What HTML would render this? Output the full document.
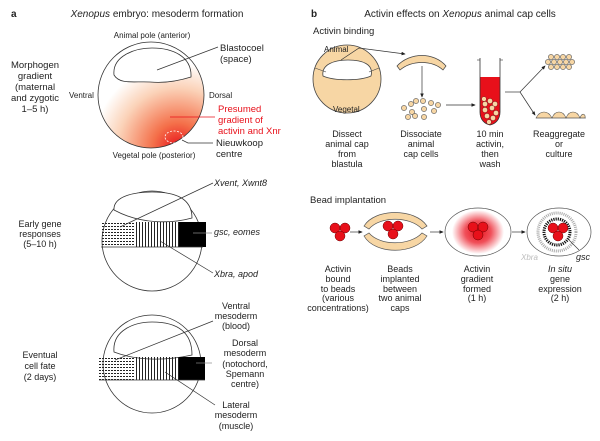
<!DOCTYPE html>
<html><head><meta charset="utf-8"><style>
body{margin:0;background:#fff}
svg{display:block;font-family:"Liberation Sans",Arial,sans-serif}
text{font-size:9px;fill:#222}
.c{text-anchor:middle}
</style></head><body>
<svg width="600" height="441" viewBox="0 0 600 441">
<defs>
<radialGradient id="g1" gradientUnits="userSpaceOnUse" cx="178" cy="148" r="100">
<stop offset="0" stop-color="#e8101a"/><stop offset="0.25" stop-color="#f4704a"/><stop offset="0.6" stop-color="#fbd2b8"/><stop offset="0.85" stop-color="#fff"/></radialGradient>
<radialGradient id="g2" cx="0.5" cy="0.5" r="0.5">
<stop offset="0" stop-color="#e8101a"/><stop offset="0.5" stop-color="#f0505a"/><stop offset="1" stop-color="#fff" stop-opacity="1"/></radialGradient>
<pattern id="dots" width="3" height="3" patternUnits="userSpaceOnUse"><rect x="0" y="1" width="2" height="1" fill="#222"/></pattern>
<pattern id="vl" width="3" height="3" patternUnits="userSpaceOnUse"><rect x="1" y="0" width="1" height="3" fill="#222"/></pattern>
<marker id="ar" markerWidth="6" markerHeight="6" refX="5" refY="3" orient="auto"><path d="M0,0.5 L6,3 L0,5.5z" fill="#222"/></marker>
</defs>
<!-- Panel a -->
<text x="11" y="17" style="font-weight:bold;font-size:10px">a</text>
<text x="157" y="17" class="c" style="font-size:10px"><tspan font-style="italic">Xenopus</tspan> embryo: mesoderm formation</text>

<circle cx="151" cy="95" r="53" fill="url(#g1)" stroke="#333" stroke-width="0.8"/>
<path d="M114,75 C112,56 135,48 152,48 C172,48 192,56 191,77 C175,82 160,83 150,82 C135,81 120,85 114,75z" fill="#fff" stroke="#333" stroke-width="0.8"/>
<ellipse cx="174" cy="137" rx="9" ry="6" fill="none" stroke="#fff" stroke-width="0.8" stroke-dasharray="2,1.5"/>
<line x1="157" y1="70" x2="218" y2="47" stroke="#333" stroke-width="0.7"/>
<line x1="170" y1="117" x2="215" y2="117" stroke="#e8101a" stroke-width="0.7"/>
<polyline points="182,140 188,143 213,143" fill="none" stroke="#333" stroke-width="0.7"/>
<text x="152" y="38" class="c" style="font-size:8px">Animal pole (anterior)</text>
<text x="220" y="51" style="font-size:9.5px">Blastocoel</text>
<text x="220" y="62" style="font-size:9.5px">(space)</text>
<text x="69" y="98" style="font-size:8px">Ventral</text>
<text x="209" y="98" style="font-size:8px">Dorsal</text>
<text x="218" y="112" style="font-size:9.5px;fill:#e8101a">Presumed</text>
<text x="218" y="123" style="font-size:9.5px;fill:#e8101a">gradient of</text>
<text x="218" y="134" style="font-size:9.5px;fill:#e8101a">activin and Xnr</text>
<text x="216" y="146" style="font-size:9.5px">Nieuwkoop</text>
<text x="216" y="157" style="font-size:9.5px">centre</text>
<text x="154" y="158" class="c" style="font-size:8px">Vegetal pole (posterior)</text>
<text x="35" y="68" class="c" style="font-size:9.5px">Morphogen</text>
<text x="35" y="79" class="c" style="font-size:9.5px">gradient</text>
<text x="35" y="90" class="c" style="font-size:9.5px">(maternal</text>
<text x="35" y="101" class="c" style="font-size:9.5px">and zygotic</text>
<text x="35" y="112" class="c" style="font-size:9.5px">1–5 h)</text>

<!-- embryo 2 -->
<circle cx="152" cy="241" r="50" fill="#fff" stroke="#333" stroke-width="0.8"/>
<path d="M114,210 C113,196 135,192 152,192 C175,192 192,198 192,218 C170,224 140,224 114,210z" fill="#fff" stroke="#333" stroke-width="0.8"/>
<rect x="101" y="222" width="34" height="25" fill="url(#dots)"/>
<rect x="135" y="222" width="44" height="25" fill="url(#vl)"/>
<rect x="179" y="222" width="27" height="25" fill="#000"/>
<line x1="101" y1="247" x2="203" y2="247" stroke="#333" stroke-width="0.7"/>
<line x1="120" y1="227" x2="213" y2="183" stroke="#333" stroke-width="0.7"/>
<line x1="193" y1="233" x2="212" y2="233" stroke="#888" stroke-width="0.7"/>
<line x1="160" y1="241" x2="213" y2="273" stroke="#333" stroke-width="0.7"/>
<text x="214" y="186" style="font-size:9px;font-style:italic">Xvent, Xwnt8</text>
<text x="214" y="235" style="font-size:9px;font-style:italic">gsc, eomes</text>
<text x="214" y="277" style="font-size:9px;font-style:italic">Xbra, apod</text>
<text x="40" y="227" class="c">Early gene</text>
<text x="40" y="237" class="c">responses</text>
<text x="40" y="247" class="c">(5–10 h)</text>

<!-- embryo 3 -->
<circle cx="152" cy="364" r="49" fill="#fff" stroke="#333" stroke-width="0.8"/>
<path d="M114,352 C112,330 135,322 152,322 C175,322 192,330 192,355 C170,360 140,362 114,352z" fill="#fff" stroke="#333" stroke-width="0.8"/>
<rect x="99" y="357" width="36" height="23" fill="url(#dots)"/>
<rect x="135" y="357" width="44" height="23" fill="url(#vl)"/>
<rect x="179" y="357" width="26" height="23" fill="#000"/>
<line x1="99" y1="380" x2="205" y2="380" stroke="#333" stroke-width="0.7"/>
<line x1="115" y1="360" x2="213" y2="321" stroke="#333" stroke-width="0.7"/>
<line x1="196" y1="363" x2="212" y2="363" stroke="#888" stroke-width="0.7"/>
<line x1="165" y1="372" x2="215" y2="405" stroke="#333" stroke-width="0.7"/>
<text x="236" y="309" class="c">Ventral</text>
<text x="236" y="319" class="c">mesoderm</text>
<text x="236" y="329" class="c">(blood)</text>
<text x="245" y="346" class="c">Dorsal</text>
<text x="245" y="356" class="c">mesoderm</text>
<text x="245" y="367" class="c">(notochord,</text>
<text x="245" y="377" class="c">Spemann</text>
<text x="245" y="387" class="c">centre)</text>
<text x="236" y="408" class="c">Lateral</text>
<text x="236" y="418" class="c">mesoderm</text>
<text x="236" y="429" class="c">(muscle)</text>
<text x="40" y="358" class="c">Eventual</text>
<text x="40" y="369" class="c">cell fate</text>
<text x="40" y="380" class="c">(2 days)</text>

<!-- Panel b -->
<text x="311" y="17" style="font-weight:bold;font-size:10px">b</text>
<text x="460" y="17" class="c" style="font-size:10px">Activin effects on <tspan font-style="italic">Xenopus</tspan> animal cap cells</text>
<text x="313" y="34" style="font-size:9.5px">Activin binding</text>
<circle cx="347" cy="79" r="34" fill="#f7d6a4" stroke="#444" stroke-width="0.8"/>
<path d="M323,76 C321,64 335,60 348,60 C362,60 374,64 371,76 C360,81 334,81 323,76z" fill="#fff" stroke="#444" stroke-width="0.8"/>
<line x1="315" y1="68" x2="326" y2="72" stroke="#444" stroke-width="0.6"/>
<line x1="379" y1="68" x2="369" y2="72" stroke="#444" stroke-width="0.6"/>
<text x="324" y="52" style="font-size:8px">Animal</text>
<polyline points="341,60 359,48 405,54" fill="none" stroke="#333" stroke-width="0.7" marker-end="url(#ar)"/>
<text x="333" y="112" style="font-size:8px">Vegetal</text>
<path d="M397,66 C410,52 434,52 446,66 L443,70 C432,60 412,60 400,70z" fill="#f7d6a4" stroke="#444" stroke-width="0.7"/>
<line x1="422" y1="66" x2="422" y2="97" stroke="#333" stroke-width="0.7" marker-end="url(#ar)"/>
<g fill="#f7d6a4" stroke="#555" stroke-width="0.6">
<circle cx="404" cy="108" r="2.6"/><circle cx="411" cy="104" r="2.6"/><circle cx="416" cy="101" r="2.6"/><circle cx="423" cy="101" r="2.6"/><circle cx="431" cy="103" r="2.6"/><circle cx="438" cy="105" r="2.6"/><circle cx="412" cy="112" r="2.6"/><circle cx="424" cy="109" r="2.6"/><circle cx="434" cy="111" r="2.6"/><circle cx="408" cy="117" r="2.6"/><circle cx="415" cy="116" r="2.6"/><circle cx="424" cy="117" r="2.6"/>
</g>
<line x1="446" y1="105" x2="475" y2="105" stroke="#333" stroke-width="0.7" marker-end="url(#ar)"/>
<path d="M480,77 L500,77 L500,112 C500,120 495,124 490,125 C485,124 480,120 480,112z" fill="#e8101a"/>
<path d="M480,58 L480,112 C480,120 485,124 490,125 C495,124 500,120 500,112 L500,58" fill="none" stroke="#333" stroke-width="0.8"/>
<line x1="477" y1="60" x2="480" y2="60" stroke="#333" stroke-width="0.6"/><line x1="500" y1="60" x2="503" y2="60" stroke="#333" stroke-width="0.6"/>
<g fill="#f7d6a4" stroke="#7a2020" stroke-width="0.5">
<circle cx="485" cy="104" r="2.6"/><circle cx="490" cy="101" r="2.6"/><circle cx="495" cy="104" r="2.6"/><circle cx="485" cy="110" r="2.6"/><circle cx="492" cy="108" r="2.6"/><circle cx="496" cy="113" r="2.6"/><circle cx="487" cy="116" r="2.6"/><circle cx="493" cy="118" r="2.6"/><circle cx="489" cy="122" r="2.4"/><circle cx="484" cy="99" r="2.4"/>
</g>
<polyline points="505,92 520,92" fill="none" stroke="#333" stroke-width="0.7"/>
<line x1="520" y1="92" x2="545" y2="66" stroke="#333" stroke-width="0.7" marker-end="url(#ar)"/>
<line x1="520" y1="92" x2="535" y2="115" stroke="#333" stroke-width="0.7" marker-end="url(#ar)"/>
<g fill="#f7d6a4" stroke="#555" stroke-width="0.6">
<circle cx="551" cy="57" r="2.6"/><circle cx="557" cy="57" r="2.6"/><circle cx="563" cy="57" r="2.6"/><circle cx="569" cy="57" r="2.6"/>
<circle cx="548" cy="62" r="2.6"/><circle cx="554" cy="62" r="2.6"/><circle cx="560" cy="62" r="2.6"/><circle cx="566" cy="62" r="2.6"/><circle cx="572" cy="62" r="2.6"/>
<circle cx="551" cy="67" r="2.6"/><circle cx="557" cy="67" r="2.6"/><circle cx="563" cy="67" r="2.6"/><circle cx="569" cy="67" r="2.6"/>
</g>
<path d="M536,118 C540,110 548,110 552,118 C555,110 563,110 566,118 C569,110 577,110 580,118 C582,112 586,114 585,118z" fill="#f7d6a4" stroke="#555" stroke-width="0.6"/>
<line x1="536" y1="118" x2="586" y2="118" stroke="#555" stroke-width="0.6"/>
<text x="347" y="137" class="c">Dissect</text><text x="347" y="147" class="c">animal cap</text><text x="347" y="157" class="c">from</text><text x="347" y="167" class="c">blastula</text>
<text x="421" y="137" class="c">Dissociate</text><text x="421" y="147" class="c">animal</text><text x="421" y="157" class="c">cap cells</text>
<text x="490" y="137" class="c">10 min</text><text x="490" y="147" class="c">activin,</text><text x="490" y="157" class="c">then</text><text x="490" y="167" class="c">wash</text>
<text x="559" y="137" class="c">Reaggregate</text><text x="559" y="147" class="c">or</text><text x="559" y="157" class="c">culture</text>

<text x="310" y="203" style="font-size:9.5px">Bead implantation</text>
<g fill="#e8101a" stroke="#600" stroke-width="0.5">
<circle cx="335" cy="228" r="5"/><circle cx="345" cy="228" r="5"/><circle cx="340" cy="236" r="5"/>
</g>
<line x1="350" y1="232" x2="362" y2="232" stroke="#333" stroke-width="0.7" marker-end="url(#ar)"/>
<path d="M364,226 C375,208 415,208 427,226 L422,229 C410,216 380,216 369,229z" fill="#f7d6a4" stroke="#555" stroke-width="0.7"/>
<path d="M364,236 C375,255 415,255 427,236 L422,233 C410,246 380,246 369,233z" fill="#f7d6a4" stroke="#555" stroke-width="0.7"/>
<g fill="#e8101a" stroke="#600" stroke-width="0.5">
<circle cx="388" cy="226" r="5"/><circle cx="398" cy="226" r="5"/><circle cx="393" cy="234" r="5"/>
</g>
<line x1="430" y1="232" x2="443" y2="232" stroke="#333" stroke-width="0.7" marker-end="url(#ar)"/>
<ellipse cx="478" cy="232" rx="33" ry="24" fill="#fff" stroke="#555" stroke-width="0.7"/>
<ellipse cx="478" cy="232" rx="26" ry="22" fill="url(#g2)"/>
<g fill="#e8101a" stroke="#600" stroke-width="0.5">
<circle cx="473" cy="227" r="5"/><circle cx="483" cy="227" r="5"/><circle cx="478" cy="235" r="5"/>
</g>
<line x1="512" y1="232" x2="525" y2="232" stroke="#333" stroke-width="0.7" marker-end="url(#ar)"/>
<ellipse cx="559" cy="232" rx="32" ry="24" fill="#fff" stroke="#555" stroke-width="0.7"/>
<circle cx="557" cy="232" r="19" fill="none" stroke="#aaa" stroke-width="3" stroke-dasharray="1,1"/>
<circle cx="557" cy="232" r="13" fill="none" stroke="#111" stroke-width="3" stroke-dasharray="1.2,1"/>
<g fill="#e8101a" stroke="#600" stroke-width="0.5">
<circle cx="553" cy="228" r="5"/><circle cx="563" cy="228" r="5"/><circle cx="558" cy="236" r="5"/>
</g>
<line x1="569" y1="240" x2="579" y2="250" stroke="#333" stroke-width="0.6"/>
<text x="521" y="260" style="font-size:8px;font-style:italic;fill:#bbb">Xbra</text>
<text x="576" y="260" style="font-size:9px;font-style:italic">gsc</text>
<text x="338" y="272" class="c">Activin</text><text x="338" y="282" class="c">bound</text><text x="338" y="292" class="c">to beads</text><text x="338" y="301" class="c">(various</text><text x="338" y="311" class="c">concentrations)</text>
<text x="400" y="272" class="c">Beads</text><text x="400" y="282" class="c">implanted</text><text x="400" y="292" class="c">between</text><text x="400" y="301" class="c">two animal</text><text x="400" y="311" class="c">caps</text>
<text x="477" y="272" class="c">Activin</text><text x="477" y="282" class="c">gradient</text><text x="477" y="292" class="c">formed</text><text x="477" y="301" class="c">(1 h)</text>
<text x="560" y="272" class="c" font-style="italic">In situ</text><text x="560" y="282" class="c">gene</text><text x="560" y="292" class="c">expression</text><text x="560" y="301" class="c">(2 h)</text>
</svg>
</body></html>
